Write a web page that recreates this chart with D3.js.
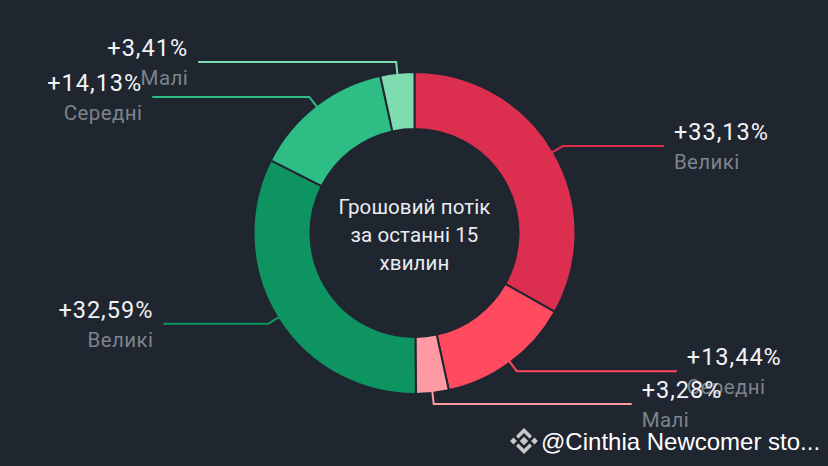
<!DOCTYPE html>
<html><head><meta charset="utf-8">
<script src="https://cdn.jsdelivr.net/npm/d3@7"></script>
<style>html,body{margin:0;padding:0;background:#1f2630}svg{display:block}</style>
</head><body><svg id="c" width="828" height="466"></svg>
<script>
const values = [33.13, 13.44, 3.28, 32.59, 14.13, 3.41];
const valueLabels = ["+33,13%", "+13,44%", "+3,28%", "+32,59%", "+14,13%", "+3,41%"];
const sizeLabels = ["Великі", "Середні", "Малі", "Великі", "Середні", "Малі"];
const colours = ["#dc2f4f", "#ff4a60", "#ff9aa3", "#0e9461", "#2ebd85", "#7fdcb0"];
const leaderLengths = [101, 160, 198, 105, 157, 198];
const centreLines = ["Грошовий потік", "за останні 15", "хвилин"];
const watermark = "@Cinthia Newcomer sto...";

const W = 828, H = 466, cx = 414.5, cy = 233, R = 161, r = 104;
const BG = "#1f2630";
const svg = d3.select("#c");
svg.append("rect").attr("width", W).attr("height", H).attr("fill", BG);
const g = svg.append("g").attr("transform", `translate(${cx},${cy})`);
const pie = d3.pie().sort(null).value(d => d);
const arcs = pie(values);
const arc = d3.arc().innerRadius(r).outerRadius(R);

g.selectAll("path.s").data(arcs).join("path").attr("class", "s")
  .attr("d", arc).attr("fill", (d, i) => colours[i])
  .attr("stroke", BG).attr("stroke-width", 2);

const font = "Roboto, sans-serif";
arcs.forEach((d, i) => {
  const a = (d.startAngle + d.endAngle) / 2;
  const p = rad => [Math.sin(a) * rad, -Math.cos(a) * rad];
  const p0 = p(R - 2), p1 = p(172);
  const right = Math.sin(a) > 0;
  const x2 = p1[0] + (right ? 1 : -1) * leaderLengths[i];
  g.append("path").attr("d", d3.line()([p0, p1, [x2, p1[1]]]))
    .attr("fill", "none").attr("stroke", colours[i]).attr("stroke-width", 2);
  const tx = x2 + (right ? 10 : -10);
  const anchor = right ? "start" : "end";
  g.append("text").attr("x", tx).attr("y", p1[1] - 6).attr("text-anchor", anchor)
    .attr("font-family", font).attr("font-size", 23.5).attr("letter-spacing", 1)
    .attr("fill", "#f2f3f5").text(valueLabels[i]);
  g.append("text").attr("x", tx).attr("y", p1[1] + 23).attr("text-anchor", anchor)
    .attr("font-family", font).attr("font-size", 20.5).attr("letter-spacing", 0.4)
    .attr("fill", "#7d838c").text(sizeLabels[i]);
});

g.selectAll("text.c").data(centreLines).join("text").attr("class", "c")
  .attr("x", 0).attr("y", (d, i) => -19 + i * 28).attr("text-anchor", "middle")
  .attr("font-family", font).attr("font-size", 20.5).attr("letter-spacing", 0.1).attr("fill", "#eaecef").text(d => d);

const logo = svg.append("g").attr("transform", "translate(524,441)").attr("fill", "#c9c9c9");
const diamond = (x, y, s) => logo.append("rect").attr("x", x - s).attr("y", y - s)
  .attr("width", 2 * s).attr("height", 2 * s).attr("transform", `rotate(45 ${x} ${y})`);
diamond(0, 0, 3); diamond(-10.5, 0, 2.4); diamond(10.5, 0, 2.4);
const chevron = sy => logo.append("path").attr("d", d3.line()([[-8 , 5 * sy], [0, 13 * sy], [8, 5 * sy], [5.5, 2.5 * sy], [0, 8 * sy], [-5.5, 2.5 * sy]]) + "Z");
chevron(1); chevron(-1);
svg.append("text").attr("x", 541).attr("y", 450).attr("font-family", "'Liberation Sans', Arial, sans-serif")
  .attr("font-size", 24).attr("fill", "#ffffff").text(watermark);
</script></body></html>
